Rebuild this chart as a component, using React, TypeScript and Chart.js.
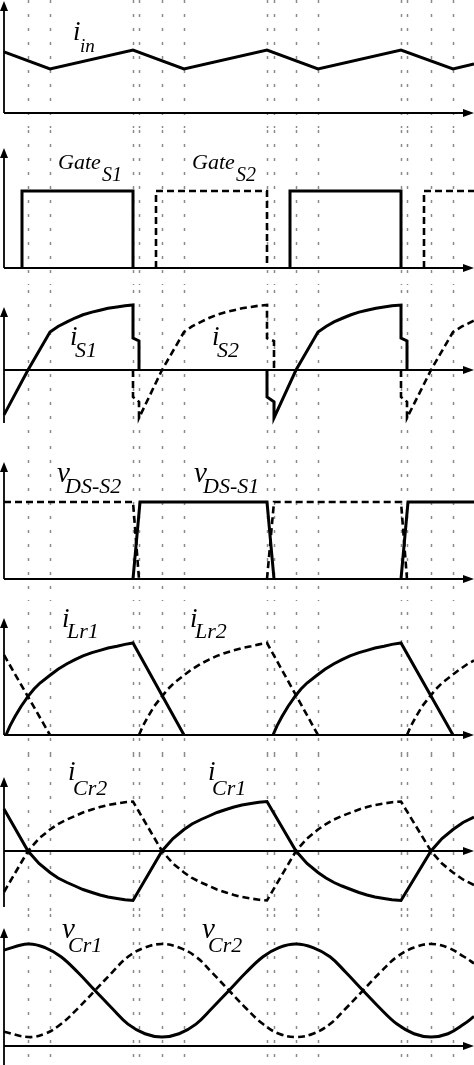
import React, { useEffect, useRef } from "react";
import { Chart, registerables } from "chart.js";
Chart.register(...registerables);

// ---------- shared timing marks (time axis, arbitrary units) ----------
const GRID_T = [28, 50, 133, 139, 162, 184, 267, 274, 296, 318, 401, 407, 431, 453];

// ---------- panel 1 : input current ----------
const I_IN_T = [4, 50, 133, 184, 267, 318, 401, 453, 474];
const I_IN = [0.97, 0.7, 1.0, 0.7, 1.0, 0.7, 1.0, 0.7, 0.78];

// ---------- panel 2 : gate signals ----------
const GATE_S1_T = [22, 22, 133, 133, 200, 290, 290, 401, 401];
const GATE_S1 = [0, 1, 1, 0, null, 0, 1, 1, 0];
const GATE_S2_T = [156, 156, 267, 267, 350, 424, 424, 474];
const GATE_S2 = [0, 1, 1, 0, null, 0, 1, 1];

// ---------- panel 3 : switch currents ----------
const I_S1_T = [4, 28, 50, 58, 67, 75, 83, 92, 100, 108, 117, 125, 133, 133, 139, 139, 200, 267, 267, 274, 274, 296, 318, 326, 334, 343, 351, 359, 367, 376, 384, 392, 401, 401, 407, 407];
const I_S1 = [-0.69, 0, 0.585, 0.67, 0.74, 0.8, 0.85, 0.89, 0.92, 0.95, 0.97, 0.99, 1.0, 0.49, 0.446, 0, null, 0, -0.415, -0.49, -0.738, 0, 0.585, 0.67, 0.74, 0.8, 0.85, 0.89, 0.92, 0.95, 0.97, 0.99, 1.0, 0.49, 0.446, 0];
const I_S2_T = [133, 133, 139, 139, 162, 184, 192, 201, 209, 217, 226, 234, 242, 251, 259, 267, 267, 274, 274, 340, 401, 401, 407, 407, 431, 453, 462, 474];
const I_S2 = [0, -0.415, -0.49, -0.738, 0, 0.585, 0.67, 0.74, 0.8, 0.85, 0.89, 0.92, 0.95, 0.97, 0.99, 1.0, 0.49, 0.446, 0, null, 0, -0.415, -0.49, -0.738, 0, 0.585, 0.67, 0.76];

// ---------- panel 4 : drain-source voltages ----------
const V_DS_S2_T = [4, 133, 139, 200, 267, 274, 401, 407];
const V_DS_S2 = [1, 1, 0, null, 0, 1, 1, 0];
const V_DS_S1_T = [133, 140, 267, 274, 340, 401, 408, 474];
const V_DS_S1 = [0, 1, 1, 0, null, 0, 1, 1];

// ---------- panel 5 : resonant inductor currents ----------
const I_LR1_T = [6, 10, 15, 21, 28, 34, 40, 50, 58, 67, 75, 83, 92, 100, 108, 117, 125, 133, 184, 230, 273, 277, 282, 288, 295, 301, 307, 317, 325, 334, 342, 350, 359, 367, 375, 384, 392, 401, 453];
const I_LR1 = [0, 0.1, 0.2, 0.31, 0.42, 0.5, 0.565, 0.65, 0.715, 0.775, 0.82, 0.86, 0.895, 0.92, 0.945, 0.965, 0.985, 1.0, 0, null, 0, 0.1, 0.2, 0.31, 0.42, 0.5, 0.565, 0.65, 0.715, 0.775, 0.82, 0.86, 0.895, 0.92, 0.945, 0.965, 0.985, 1.0, 0];
const I_LR2_T = [4, 50, 95, 139, 143, 148, 154, 162, 168, 174, 184, 192, 201, 209, 217, 226, 234, 242, 251, 259, 267, 318, 360, 407, 411, 416, 422, 430, 436, 442, 452, 460, 468, 474];
const I_LR2 = [0.87, 0, null, 0, 0.1, 0.2, 0.31, 0.42, 0.5, 0.565, 0.65, 0.715, 0.775, 0.82, 0.86, 0.895, 0.92, 0.945, 0.965, 0.985, 1.0, 0, null, 0, 0.1, 0.2, 0.31, 0.42, 0.5, 0.565, 0.65, 0.715, 0.775, 0.81];

// ---------- panel 6 : resonant capacitor currents ----------
const I_CR_T = [4, 28, 39, 50, 58, 67, 75, 83, 92, 100, 108, 117, 125, 133, 162, 173, 184, 192, 201, 209, 217, 226, 234, 242, 251, 259, 267, 296, 307, 318, 326, 334, 342, 351, 359, 367, 375, 384, 392, 401, 431, 442, 453, 463, 474];
const I_CR1 = [0.84, 0, -0.25, -0.43, -0.54, -0.63, -0.7, -0.77, -0.83, -0.88, -0.92, -0.95, -0.975, -0.99, 0, 0.25, 0.43, 0.54, 0.63, 0.7, 0.77, 0.83, 0.88, 0.92, 0.95, 0.975, 0.99, 0, -0.25, -0.43, -0.54, -0.63, -0.7, -0.77, -0.83, -0.88, -0.92, -0.95, -0.975, -0.99, 0, 0.25, 0.43, 0.57, 0.68];
const I_CR2 = [-0.82, 0, 0.25, 0.43, 0.54, 0.63, 0.7, 0.77, 0.83, 0.88, 0.92, 0.95, 0.975, 0.99, 0, -0.25, -0.43, -0.54, -0.63, -0.7, -0.77, -0.83, -0.88, -0.92, -0.95, -0.975, -0.99, 0, 0.25, 0.43, 0.54, 0.63, 0.7, 0.77, 0.83, 0.88, 0.92, 0.95, 0.975, 0.99, 0, -0.25, -0.43, -0.57, -0.68];

// ---------- panel 7 : resonant capacitor voltages ----------
const V_CR_T = [4, 28, 45, 61, 78, 95, 112, 128, 145, 162, 179, 196, 212, 229, 246, 263, 279, 296, 313, 330, 346, 363, 380, 397, 414, 431, 448, 464, 474];
const V_CR1 = [0.94, 1.0, 0.965, 0.875, 0.72, 0.544, 0.37, 0.215, 0.12, 0.088, 0.12, 0.215, 0.37, 0.544, 0.72, 0.875, 0.965, 1.0, 0.965, 0.875, 0.72, 0.544, 0.37, 0.215, 0.12, 0.088, 0.12, 0.215, 0.29];
const V_CR2 = [0.14, 0.088, 0.12, 0.215, 0.37, 0.544, 0.72, 0.875, 0.965, 1.0, 0.965, 0.875, 0.72, 0.544, 0.37, 0.215, 0.12, 0.088, 0.12, 0.215, 0.37, 0.544, 0.72, 0.875, 0.965, 1.0, 0.965, 0.875, 0.81];

type Series = { t: number[]; v: (number | null)[]; dashed?: boolean; tension?: number };
type Label = { main: string; sub: string; x: number; y: number; sx: number; sy: number; ms: number; ss: number };
type Panel = { h: number; axis: number; unit: number; arrowTop: number; axisBottom: number; series: Series[]; labels: Label[] };

const PANELS: Panel[] = [
  {
    h: 128, axis: 113, unit: 63, arrowTop: 1, axisBottom: 113,
    series: [{ t: I_IN_T, v: I_IN }],
    labels: [{ main: "i", sub: "in", x: 73, y: 40, sx: 80, sy: 52, ms: 27, ss: 19 }],
  },
  {
    h: 157, axis: 140, unit: 77, arrowTop: 20, axisBottom: 140,
    series: [{ t: GATE_S1_T, v: GATE_S1 }, { t: GATE_S2_T, v: GATE_S2, dashed: true }],
    labels: [
      { main: "Gate", sub: "S1", x: 58, y: 41, sx: 102, sy: 53, ms: 22, ss: 20 },
      { main: "Gate", sub: "S2", x: 192, y: 41, sx: 236, sy: 53, ms: 22, ss: 20 },
    ],
  },
  {
    h: 155, axis: 85, unit: 65, arrowTop: 22, axisBottom: 138,
    series: [{ t: I_S1_T, v: I_S1 }, { t: I_S2_T, v: I_S2, dashed: true }],
    labels: [
      { main: "i", sub: "S1", x: 70, y: 60, sx: 75, sy: 72, ms: 27, ss: 22 },
      { main: "i", sub: "S2", x: 212, y: 60, sx: 217, sy: 72, ms: 27, ss: 22 },
    ],
  },
  {
    h: 160, axis: 139, unit: 77, arrowTop: 22, axisBottom: 139,
    series: [{ t: V_DS_S1_T, v: V_DS_S1 }, { t: V_DS_S2_T, v: V_DS_S2, dashed: true }],
    labels: [
      { main: "v", sub: "DS-S2", x: 57, y: 42, sx: 65, sy: 53, ms: 29, ss: 22 },
      { main: "v", sub: "DS-S1", x: 194, y: 42, sx: 203, sy: 53, ms: 29, ss: 22 },
    ],
  },
  {
    h: 155, axis: 135, unit: 92, arrowTop: 18, axisBottom: 135,
    series: [{ t: I_LR1_T, v: I_LR1 }, { t: I_LR2_T, v: I_LR2, dashed: true }],
    labels: [
      { main: "i", sub: "Lr1", x: 62, y: 27, sx: 67, sy: 38, ms: 27, ss: 22 },
      { main: "i", sub: "Lr2", x: 190, y: 27, sx: 195, sy: 38, ms: 27, ss: 22 },
    ],
  },
  {
    h: 157, axis: 96, unit: 50, arrowTop: 22, axisBottom: 152,
    series: [{ t: I_CR_T, v: I_CR1 }, { t: I_CR_T, v: I_CR2, dashed: true }],
    labels: [
      { main: "i", sub: "Cr2", x: 68, y: 25, sx: 73, sy: 40, ms: 27, ss: 22 },
      { main: "i", sub: "Cr1", x: 208, y: 25, sx: 212, sy: 40, ms: 27, ss: 22 },
    ],
  },
  {
    h: 153, axis: 134, unit: 102, arrowTop: 16, axisBottom: 153,
    series: [{ t: V_CR_T, v: V_CR1, tension: 0.4 }, { t: V_CR_T, v: V_CR2, dashed: true, tension: 0.4 }],
    labels: [
      { main: "v", sub: "Cr1", x: 62, y: 26, sx: 68, sy: 40, ms: 29, ss: 22 },
      { main: "v", sub: "Cr2", x: 202, y: 26, sx: 208, sy: 40, ms: 29, ss: 22 },
    ],
  },
];

const FONT = '"Liberation Serif", "Times New Roman", serif';

function PanelChart({ p, top }: { p: Panel; top: number }) {
  const ref = useRef<HTMLCanvasElement>(null);
  useEffect(() => {
    const canvas = ref.current!;
    const ymax = p.axis / p.unit;
    const ymin = -(p.h - p.axis) / p.unit;
    const overlay = {
      id: "overlay",
      beforeDatasetsDraw(chart: any) {
        const { ctx } = chart;
        const x = chart.scales.x;
        const y = chart.scales.y;
        ctx.save();
        ctx.strokeStyle = "#8a8a8a";
        ctx.lineWidth = 1.5;
        ctx.setLineDash([3, 11]);
        ctx.lineDashOffset = -(top % 14);
        GRID_T.forEach((t) => {
          const px = Math.round(x.getPixelForValue(t)) + 0.5;
          ctx.beginPath();
          ctx.moveTo(px, 0);
          ctx.lineTo(px, p.h);
          ctx.stroke();
        });
        ctx.setLineDash([]);
        ctx.strokeStyle = "#000";
        ctx.fillStyle = "#000";
        ctx.lineWidth = 1.8;
        const x0 = x.getPixelForValue(4);
        const y0 = y.getPixelForValue(0);
        const xEnd = x.getPixelForValue(474);
        ctx.beginPath();
        ctx.moveTo(x0, p.arrowTop + 6);
        ctx.lineTo(x0, p.axisBottom);
        ctx.stroke();
        ctx.beginPath();
        ctx.moveTo(x0, y0);
        ctx.lineTo(xEnd - 6, y0);
        ctx.stroke();
        ctx.beginPath();
        ctx.moveTo(x0, p.arrowTop);
        ctx.lineTo(x0 - 4, p.arrowTop + 10);
        ctx.lineTo(x0 + 4, p.arrowTop + 10);
        ctx.closePath();
        ctx.fill();
        ctx.beginPath();
        ctx.moveTo(xEnd, y0);
        ctx.lineTo(xEnd - 11, y0 - 4);
        ctx.lineTo(xEnd - 11, y0 + 4);
        ctx.closePath();
        ctx.fill();
        ctx.restore();
      },
      afterDatasetsDraw(chart: any) {
        const { ctx } = chart;
        ctx.save();
        ctx.fillStyle = "#000";
        ctx.textBaseline = "alphabetic";
        p.labels.forEach((l) => {
          ctx.font = `italic ${l.ms}px ${FONT}`;
          ctx.fillText(l.main, l.x, l.y);
          ctx.font = `italic ${l.ss}px ${FONT}`;
          ctx.fillText(l.sub, l.sx, l.sy);
        });
        ctx.restore();
      },
    };
    const chart = new Chart(canvas, {
      type: "line",
      data: {
        datasets: p.series.map((s) => ({
          data: s.t.map((t, i) => ({ x: t, y: s.v[i] })),
          borderColor: "#000",
          borderWidth: s.dashed ? 2.6 : 3,
          borderDash: s.dashed ? [7, 4] : [],
          borderJoinStyle: "miter",
          tension: s.tension ?? 0,
          pointRadius: 0,
          fill: false,
          spanGaps: false,
          clip: false as any,
        })),
      },
      options: {
        responsive: false,
        maintainAspectRatio: false,
        animation: false,
        devicePixelRatio: 1,
        layout: { padding: 0 },
        plugins: { legend: { display: false }, tooltip: { enabled: false } },
        scales: {
          x: { type: "linear", min: 0, max: 474, display: false },
          y: { type: "linear", min: ymin, max: ymax, display: false },
        },
      },
      plugins: [overlay],
    } as any);
    return () => chart.destroy();
  }, [p, top]);
  return <canvas ref={ref} width={474} height={p.h} style={{ display: "block", width: 474, height: p.h }} />;
}

export default function App() {
  let acc = 0;
  const tops = PANELS.map((p) => {
    const t = acc;
    acc += p.h;
    return t;
  });
  return (
    <div style={{ position: "absolute", left: 0, top: 0, width: 474, height: 1065, background: "#fff" }}>
      {PANELS.map((p, i) => (
        <PanelChart key={i} p={p} top={tops[i]} />
      ))}
    </div>
  );
}
